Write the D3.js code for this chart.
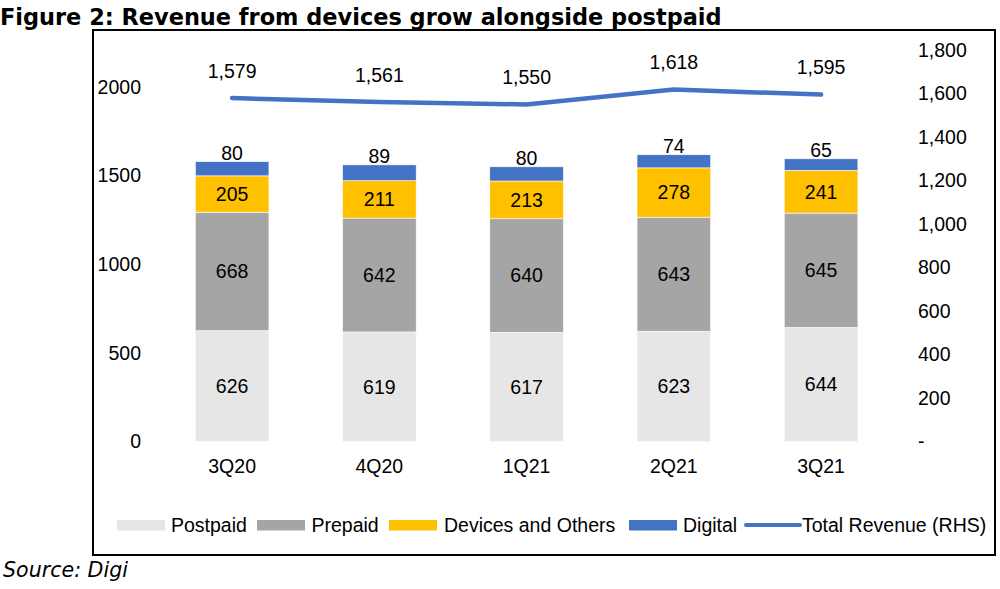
<!DOCTYPE html>
<html>
<head>
<meta charset="utf-8">
<script src="https://cdn.jsdelivr.net/npm/d3@7"></script>
<style>
  html, body { margin: 0; padding: 0; background: #fff; }
  svg { display: block; }
</style>
</head>
<body>
<svg id="chart" width="1000" height="589"></svg>
<script>
const categories = ["3Q20", "4Q20", "1Q21", "2Q21", "3Q21"];
const postpaid = [626, 619, 617, 623, 644];
const prepaid = [668, 642, 640, 643, 645];
const devices = [205, 211, 213, 278, 241];
const digital = [80, 89, 80, 74, 65];
const totalRevenue = [1579, 1561, 1550, 1618, 1595];
const seriesNames = ["Postpaid", "Prepaid", "Devices and Others", "Digital"];
const leftTicks = [0, 500, 1000, 1500, 2000];
const rightTicks = [0, 200, 400, 600, 800, 1000, 1200, 1400, 1600, 1800];
const lineName = "Total Revenue (RHS)";
const titleText = "Figure 2: Revenue from devices grow alongside postpaid";
const sourceText = "Source: Digi";

const colors = ["#E7E6E6", "#A5A5A5", "#FFC000", "#4472C4"];
const lineColor = "#4472C4";
const FONT = "'Liberation Sans', Arial, sans-serif";
const FS = 19.5;

const svg = d3.select("#chart");

const rows = categories.map((c, i) => ({
  cat: c,
  "Postpaid": postpaid[i],
  "Prepaid": prepaid[i],
  "Devices and Others": devices[i],
  "Digital": digital[i],
  total: totalRevenue[i]
}));

const x = d3.scaleBand().domain(categories).range([158.5, 894.7]).paddingInner(0.5).paddingOuter(0.25);
const yL = d3.scaleLinear().domain([0, 2000]).range([441.7, 87]);
const yR = d3.scaleLinear().domain([0, 1800]).range([441.7, 50]);

// Title
const title = svg.append("text")
  .attr("x", 0).attr("y", 25)
  .attr("font-family", "'DejaVu Sans', Verdana, sans-serif")
  .attr("font-weight", "bold")
  .attr("font-size", 20)
  .attr("fill", "#000")
  .text(titleText);
{
  const w = title.node().getComputedTextLength();
  title.attr("font-size", 20 * 722 / w);
}

// Border
svg.append("rect")
  .attr("x", 93).attr("y", 30).attr("width", 902).attr("height", 525)
  .attr("fill", "none").attr("stroke", "#000").attr("stroke-width", 2);

// Source
const src = svg.append("text")
  .attr("x", 3).attr("y", 577)
  .attr("font-family", "'DejaVu Sans', Verdana, sans-serif")
  .attr("font-style", "italic")
  .attr("font-size", 17)
  .attr("fill", "#000")
  .text(sourceText);
{
  const w = src.node().getComputedTextLength();
  src.attr("font-size", 17 * 125 / w);
}

// Stacked bars
const stack = d3.stack().keys(seriesNames);
const stacked = stack(rows);

const gBars = svg.append("g");
stacked.forEach((s, si) => {
  gBars.selectAll(null)
    .data(s)
    .enter().append("rect")
    .attr("x", d => x(d.data.cat))
    .attr("width", x.bandwidth())
    .attr("y", d => yL(d[1]))
    .attr("height", d => yL(d[0]) - yL(d[1]))
    .attr("fill", colors[si])
    .attr("stroke", "#fff")
    .attr("stroke-width", 0.6);
});

// Bar labels
stacked.forEach((s, si) => {
  const isTop = si === stacked.length - 1;
  gBars.selectAll(null)
    .data(s)
    .enter().append("text")
    .attr("x", d => x(d.data.cat) + x.bandwidth() / 2)
    .attr("y", d => isTop ? yL(d[1]) - 1.5 : (yL(d[0]) + yL(d[1])) / 2)
    .attr("dy", isTop ? 0 : "0.35em")
    .attr("text-anchor", "middle")
    .attr("font-family", FONT)
    .attr("font-size", FS)
    .attr("fill", "#000")
    .text(d => d3.format(",")(d.data[s.key]));
});

// Line
const line = d3.line()
  .x((d, i) => x(categories[i]) + x.bandwidth() / 2)
  .y(d => yR(d));
svg.append("path")
  .datum(totalRevenue)
  .attr("d", line)
  .attr("fill", "none")
  .attr("stroke", lineColor)
  .attr("stroke-width", 4.5)
  .attr("stroke-linecap", "round")
  .attr("stroke-linejoin", "round");

svg.selectAll(null)
  .data(totalRevenue)
  .enter().append("text")
  .attr("x", (d, i) => x(categories[i]) + x.bandwidth() / 2)
  .attr("y", d => yR(d) - 27)
  .attr("dy", "0.35em")
  .attr("text-anchor", "middle")
  .attr("font-family", FONT)
  .attr("font-size", FS)
  .attr("fill", "#000")
  .text(d => d3.format(",")(d));

// Left axis
const axL = d3.axisLeft(yL).tickValues(leftTicks).tickSize(0).tickPadding(0).tickFormat(d3.format("d"));
const gL = svg.append("g").attr("transform", "translate(141,0)").call(axL);
gL.select(".domain").remove();
gL.selectAll("text").attr("font-family", FONT).attr("font-size", FS).attr("fill", "#000");

// Right axis
const axR = d3.axisRight(yR).tickValues(rightTicks).tickSize(0).tickPadding(0)
  .tickFormat(d => d === 0 ? "-" : d3.format(",")(d));
const gR = svg.append("g").attr("transform", "translate(918,0)").call(axR);
gR.select(".domain").remove();
gR.selectAll("text").attr("font-family", FONT).attr("font-size", FS).attr("fill", "#000");

// X axis
const axX = d3.axisBottom(x).tickSize(0).tickPadding(0);
const gX = svg.append("g").attr("transform", "translate(0,466)").call(axX);
gX.select(".domain").remove();
gX.selectAll("text").attr("dy", "0.35em").attr("font-family", FONT).attr("font-size", FS).attr("fill", "#000");

// Legend
const legendItems = [
  { name: seriesNames[0], type: "rect", color: colors[0], sx: 117, tx: 171 },
  { name: seriesNames[1], type: "rect", color: colors[1], sx: 257, tx: 311.5 },
  { name: seriesNames[2], type: "rect", color: colors[2], sx: 389, tx: 444 },
  { name: seriesNames[3], type: "rect", color: colors[3], sx: 629, tx: 683 },
  { name: lineName, type: "line", color: lineColor, sx: 746, tx: 802 }
];
const gLeg = svg.append("g");
legendItems.forEach(it => {
  if (it.type === "rect") {
    gLeg.append("rect").attr("x", it.sx).attr("y", 520).attr("width", 48).attr("height", 10.5).attr("fill", it.color);
  } else {
    gLeg.append("line").attr("x1", it.sx).attr("x2", it.sx + 54).attr("y1", 525).attr("y2", 525)
      .attr("stroke", it.color).attr("stroke-width", 4).attr("stroke-linecap", "round");
  }
  gLeg.append("text").attr("x", it.tx).attr("y", 525).attr("dy", "0.35em")
    .attr("font-family", FONT).attr("font-size", FS).attr("fill", "#000").text(it.name);
});
</script>
</body>
</html>
